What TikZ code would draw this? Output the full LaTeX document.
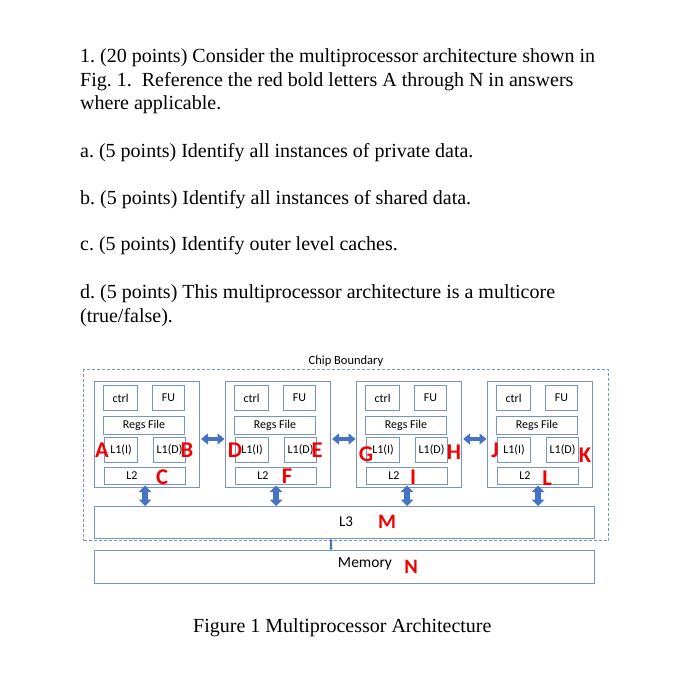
\documentclass[tikz,border=0pt]{standalone}
\usepackage{fontspec}
\setmainfont{Liberation Serif}
\newfontfamily\cbfont{Carlito}
\usetikzlibrary{arrows.meta,calc}
\definecolor{boxc}{HTML}{7A93C3}
\definecolor{arrc}{HTML}{4472C4}
\definecolor{redc}{HTML}{F00000}
\frenchspacing
\begin{document}
\begin{tikzpicture}[x=1pt,y=-1pt,
 box/.style={draw=boxc, line width=1.1pt, inner sep=0pt, anchor=north west},
 intext/.style={inner sep=0pt, font=\cbfont\fontsize{12}{13}\selectfont},
 lett/.style={text=redc, font=\cbfont\bfseries\fontsize{22.5}{24}\selectfont, inner sep=0pt},
 qtext/.style={anchor=base west, inner sep=0pt, font=\fontsize{20}{23.5}\selectfont},
 varr/.style={draw=arrc, line width=5.5pt, {Triangle[length=6.5pt,width=12.5pt]}-{Triangle[length=6.5pt,width=12.5pt]}},
 harr/.style={draw=arrc, line width=4.5pt, {Triangle[length=7pt,width=11pt]}-{Triangle[length=7pt,width=11pt]}},
 sarr/.style={draw=arrc, line width=1.6pt, {Triangle[length=2pt,width=3.5pt]}-{Triangle[length=2pt,width=3.5pt]}}
 ]
\useasboundingbox (0,0) rectangle (687,700);
\fill[white] (0,0) rectangle (687,700);

% question text
\node[qtext] (q1) at (80,63) {1. (20 points) Consider the multiprocessor architecture shown in};
\node[qtext] (q2) at (80,86.5) {Fig. 1.\ \ Reference the red bold letters A through N in answers};
\node[qtext] (q3) at (80,110) {where applicable.};
\node[qtext] (qa) at (80,158) {a. (5 points) Identify all instances of private data.};
\node[qtext] (qb) at (80,205) {b. (5 points) Identify all instances of shared data.};
\node[qtext] (qc) at (80,251) {c. (5 points) Identify outer level caches.};
\node[qtext] (qd) at (80,298.5) {d. (5 points) This multiprocessor architecture is a multicore};
\node[qtext] (qe) at (80,322) {(true/false).};

% chip boundary
\node[draw=boxc, dash pattern=on 3pt off 2pt, line width=1pt, inner sep=0pt,
      minimum width=525pt, minimum height=171pt, anchor=north west] (chip) at (83,369) {};
\node[anchor=south, inner sep=2.5pt, font=\cbfont\fontsize{12.5}{14}\selectfont] (chiplbl) at (chip.north) {Chip Boundary};

% cores
\foreach \i/\x in {1/94,2/225,3/356,4/487} {
  \node[box, minimum width=105pt, minimum height=106pt] (c\i) at (\x,381) {};
  \node[box, minimum width=34pt, minimum height=25pt] (ctrl\i) at (\x+9,385) {};
  \node[intext] at (ctrl\i.center) {ctrl};
  \node[box, minimum width=32pt, minimum height=25pt] (fu\i) at (\x+58,385) {};
  \node[intext] at (fu\i.center) {FU};
  \node[box, minimum width=81pt, minimum height=18pt] (rf\i) at (\x+9,416) {};
  \node[intext] at (rf\i.center) {Regs File};
  \node[box, minimum width=33pt, minimum height=25pt] (li\i) at (\x+10,437) {};
  \node[intext] at (li\i.center) {L1(I)};
  \node[box, minimum width=32pt, minimum height=25pt] (ld\i) at (\x+59,437) {};
  \node[intext] at (ld\i.center) {L1(D)};
  \node[box, minimum width=81pt, minimum height=17pt] (l2\i) at (\x+10,467) {};
  \node[intext] at ([xshift=28pt]l2\i.west) {L2};
}

% L3 and memory
\node[box, minimum width=500pt, minimum height=32pt] (l3) at (94,506) {};
\node[font=\cbfont\fontsize{15}{17}\selectfont] (l3t) at (346,522) {L3};
\node[box, minimum width=500pt, minimum height=33pt] (mem) at (94,550) {};
\node[font=\cbfont\fontsize{15.5}{17}\selectfont] (memt) at (365,564) {Memory};

% arrows
\coordinate (hy) at (0,439);
\draw[harr] ([xshift=1pt]c1.east |- hy) -- ([xshift=-0.5pt]c2.west |- hy);
\draw[harr] ([xshift=1pt]c2.east |- hy) -- ([xshift=-0.5pt]c3.west |- hy);
\draw[harr] ([xshift=1pt]c3.east |- hy) -- ([xshift=-0.5pt]c4.west |- hy);
\foreach \i in {1,2,3,4} {
  \draw[varr] ([yshift=-0.5pt]l2\i.south) -- (l3.north -| l2\i.south);
}
\coordinate (mx) at (331,0);
\draw[sarr] (l3.south -| mx) -- (mem.north -| mx);

% red letters
\node[lett] (A) at (102,450) {A};
\node[lett] (B) at (187,450) {B};
\node[lett] (C) at (162,477) {C};
\node[lett] (D) at (235,450) {D};
\node[lett] (E) at (317,450) {E};
\node[lett] (F) at (287,476) {F};
\node[lett] (G) at (366,454) {G};
\node[lett] (H) at (454,452) {H};
\node[lett] (I) at (413,477) {I};
\node[lett] (J) at (495,450) {J};
\node[lett] (K) at (585,455) {K};
\node[lett] (L) at (547,478) {L};
\node[lett, font=\cbfont\bfseries\fontsize{20.5}{22}\selectfont] (M) at (387,522) {M};
\node[lett, font=\cbfont\bfseries\fontsize{20.5}{22}\selectfont] (N) at (411,567) {N};

% caption
\node[qtext, font=\fontsize{20}{24}\selectfont] (cap) at (193,632) {Figure 1 Multiprocessor Architecture};
\end{tikzpicture}
\end{document}
